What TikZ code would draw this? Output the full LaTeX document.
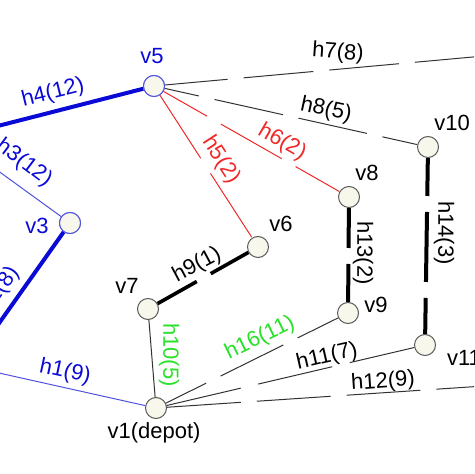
\documentclass[tikz,border=0pt]{standalone}
\usepackage{fontspec}
\setmainfont{Liberation Sans}
\definecolor{nfill}{RGB}{248,247,236}
\definecolor{ndraw}{RGB}{90,90,90}
\definecolor{bluet}{RGB}{10,10,215}
\definecolor{bluel}{RGB}{80,80,225}
\definecolor{redl}{RGB}{240,40,40}
\definecolor{greenl}{RGB}{40,225,40}
\definecolor{grayl}{RGB}{50,50,50}
\tikzset{
  vtx/.style={circle,draw=ndraw,fill=nfill,line width=0.5pt,minimum size=10.5pt,inner sep=0pt},
  bvtx/.style={vtx,draw=bluel},
  lbl/.style={inner sep=0pt,font=\fontsize{11pt}{13pt}\selectfont},
  thin edge/.style={line width=0.5pt,draw=grayl},
  thick edge/.style={line width=2pt,draw=black},
  dsh/.style={dash pattern=on 35pt off 8pt,dash phase=#1},
}
\begin{document}
\begin{tikzpicture}[x=0.5pt,y=-0.5pt]
\useasboundingbox (0,0) rectangle (474,474);
\clip (0,0) rectangle (474,474);
% vertices
\node[bvtx] (v5) at (154,86) {};
\node[bvtx] (v3) at (70,223) {};
\node[vtx] (v6) at (258,247) {};
\node[vtx] (v7) at (148,309) {};
\node[vtx] (v8) at (349,197) {};
\node[vtx] (v9) at (348,313) {};
\node[vtx] (v10) at (428,147) {};
\node[vtx] (v11) at (425,345) {};
\node[vtx] (v1) at (156,408) {};
% free ends
\coordinate (a4) at (-10,128);
\coordinate (a3) at (-10,165);
\coordinate (a2) at (-10,336);
\coordinate (a1) at (-10,371);
\coordinate (a7) at (484,56);
\coordinate (a12) at (484,386);
% edges
\draw[line width=2pt,bluet] (v5) -- (a4);
\draw[line width=0.5pt,bluel] (v3) -- (a3);
\draw[line width=2pt,bluet] (v3) -- (a2);
\draw[line width=0.5pt,bluel] (v1) -- (a1);
\draw[line width=0.5pt,redl,dash pattern=on 38pt off 9pt,dash phase=0.5pt] (v5) -- (v6);
\draw[line width=0.5pt,redl,dsh=10pt] (v5) -- (v8);
\draw[thin edge,dsh=3.5pt] (v5) -- (a7);
\draw[thin edge,dsh=17.5pt] (v5) -- (v10);
\draw[thick edge,line width=1.8pt,dsh=12.5pt] (v7) -- (v6);
\draw[thin edge] (v7) -- (v1);
\draw[thin edge,dsh=12.5pt] (v1) -- (v9);
\draw[thick edge,dsh=15pt] (v8) -- (v9);
\draw[thick edge,dsh=16pt] (v10) -- (v11);
\draw[thin edge,dash pattern=on 38pt off 9pt] (v1) -- (v11);
\draw[thin edge,dash pattern=on 37pt off 8pt] (v1) -- (a12);
% redraw vertices on top
\node[bvtx] at (v5) {};
\node[bvtx] at (v3) {};
% vertex labels
\node[lbl,text=bluet] (t5) at (152,56) {v5};
\node[lbl,text=bluet] (t3) at (37,226) {v3};
\node[lbl] (t6) at (281,224) {v6};
\node[lbl] (t7) at (127,286) {v7};
\node[lbl] (t8) at (367,173) {v8};
\node[lbl] (t9) at (376,305) {v9};
\node[lbl] (t10) at (452,123) {v10};
\node[lbl] (t11) at (464,358) {v11};
\node[lbl] (t1) at (154,433) {v1(depot)};
% edge labels
\node[lbl,text=bluet,rotate=14] (l4) at (53,93) {h4(12)};
\node[lbl,text=bluet,rotate=-37] (l3) at (24,163) {h3(12)};
\node[lbl,text=bluet,rotate=55] (l2) at (0,290) {h2(8)};
\node[lbl,text=bluet,rotate=-12] (l1) at (65,372) {h1(9)};
\node[lbl,text=redl,rotate=-57] (l5) at (221,160) {h5(2)};
\node[lbl,text=redl,rotate=-30] (l6) at (282,142) {h6(2)};
\node[lbl,rotate=-4] (l7) at (338,53) {h7(8)};
\node[lbl,rotate=-12] (l8) at (326,110) {h8(5)};
\node[lbl,rotate=28] (l9) at (197,265) {h9(1)};
\node[lbl,text=greenl,rotate=-90] (l10) at (169,355) {h10(5)};
\node[lbl,text=greenl,rotate=26] (l16) at (260,338) {h16(11)};
\node[lbl,rotate=-90] (l13) at (363,253) {h13(2)};
\node[lbl,rotate=-90] (l14) at (444,233) {h14(3)};
\node[lbl,rotate=13] (l11) at (327,357) {h11(7)};
\node[lbl,rotate=4] (l12) at (383,382) {h12(9)};
\end{tikzpicture}
\end{document}
